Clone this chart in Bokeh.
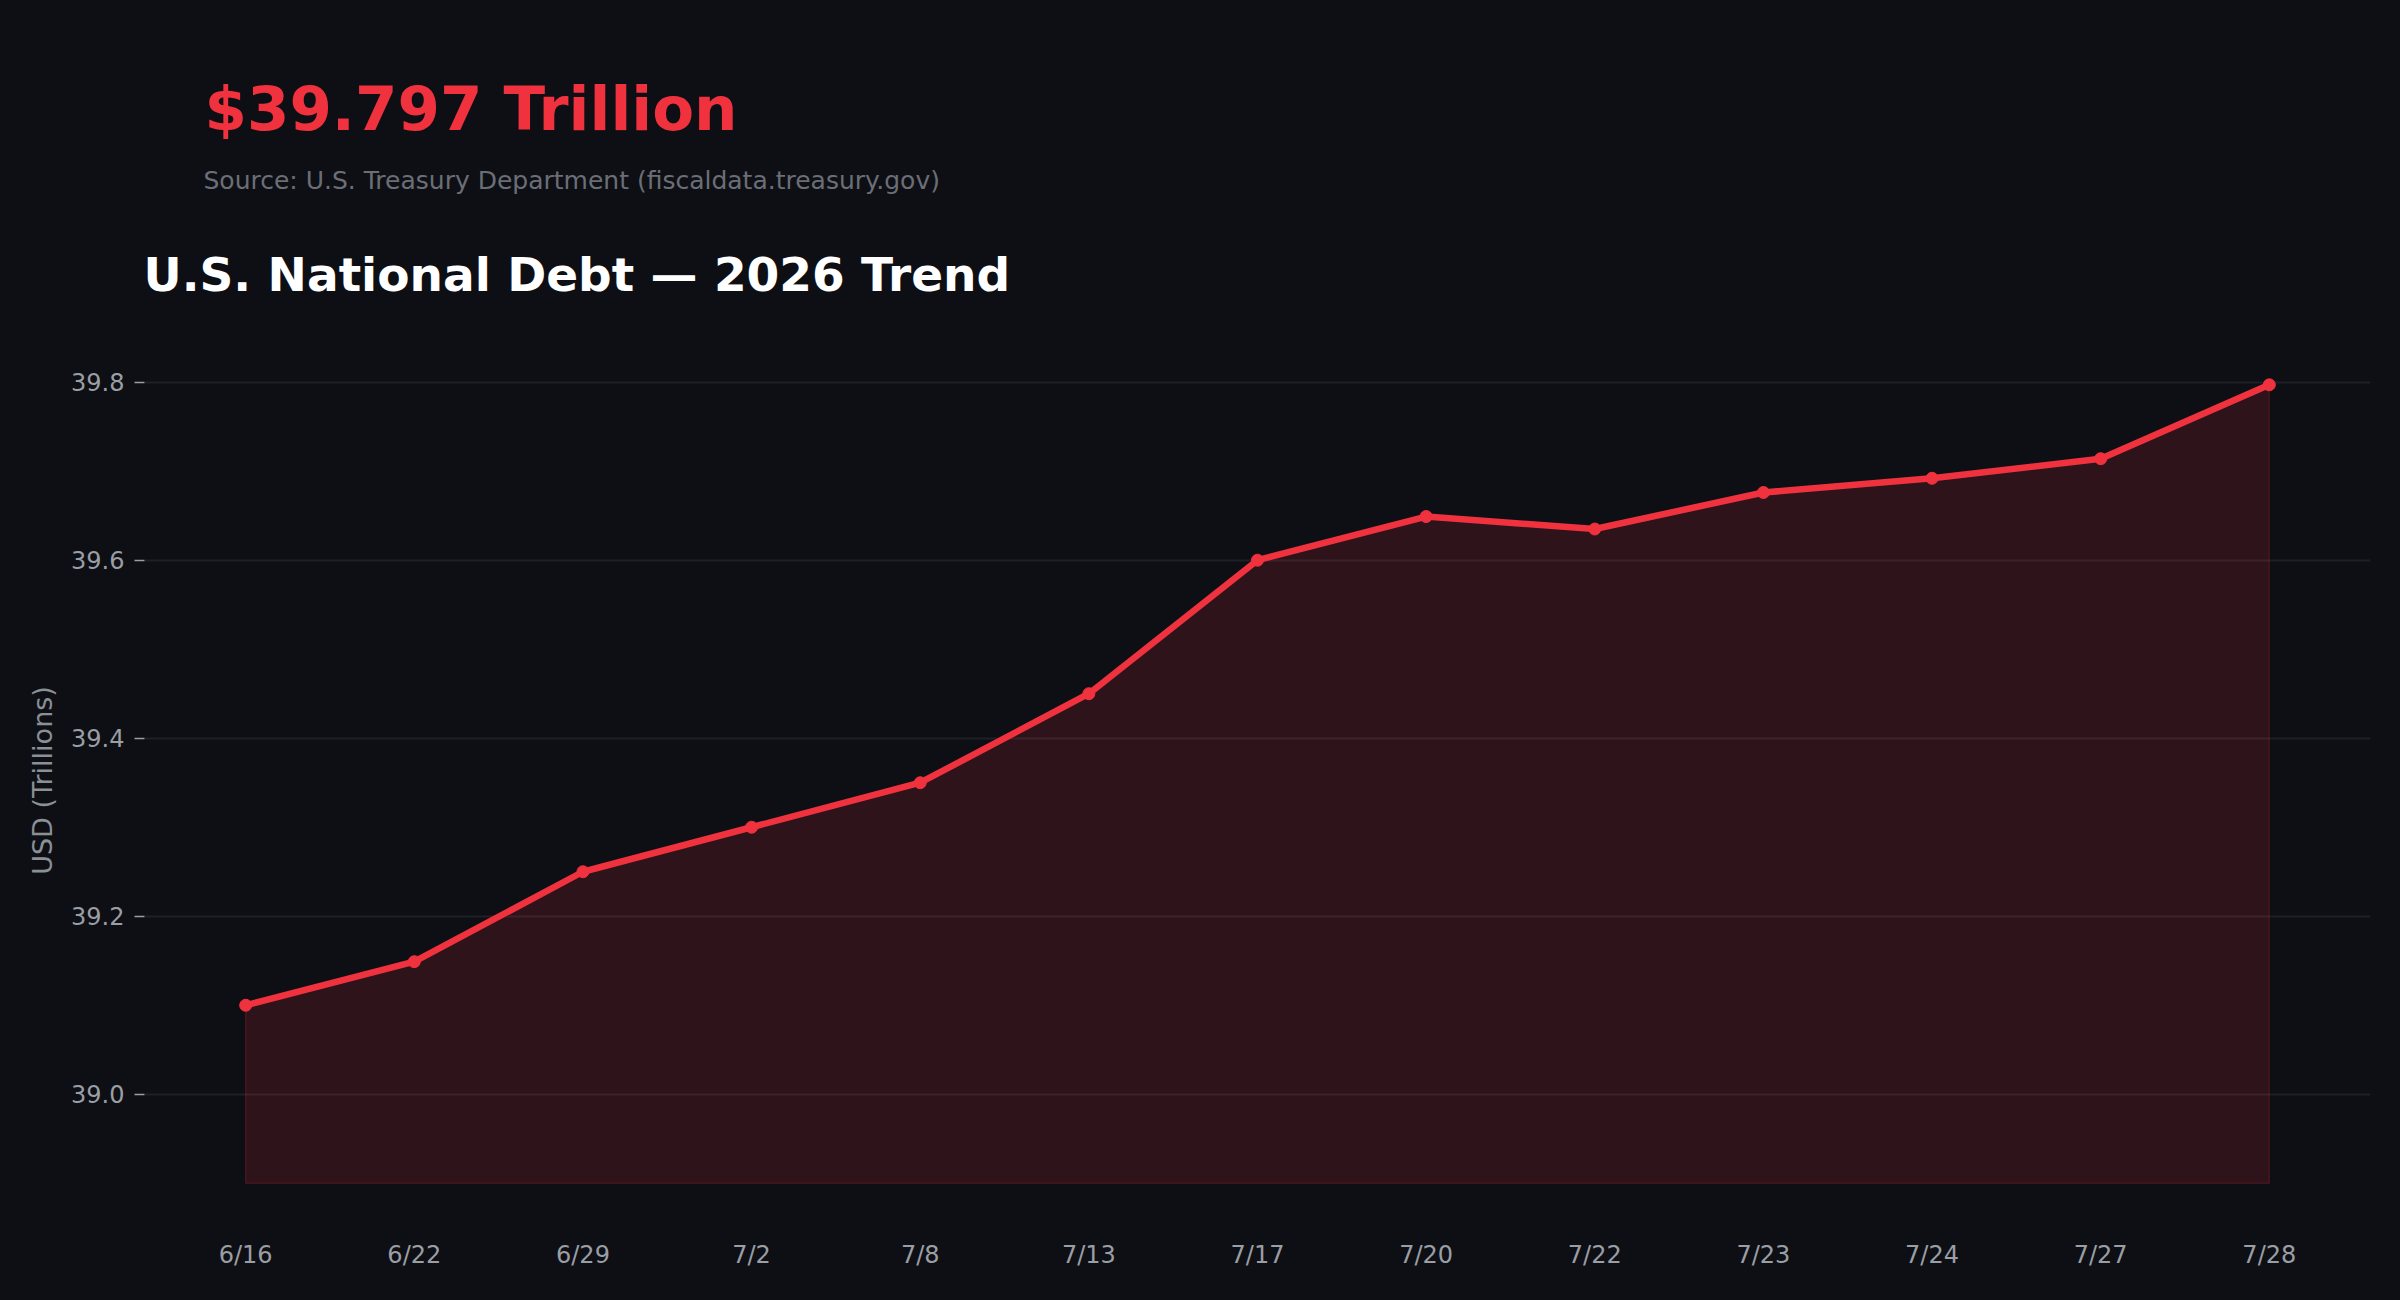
from bokeh.plotting import figure
from bokeh.models import Range1d, FixedTicker, ColumnDataSource, PrintfTickFormatter
from bokeh.layouts import column
from bokeh.core.properties import value
from bokeh.embed import file_html
from bokeh.resources import INLINE

# ---- data ----
dates = ["6/16", "6/22", "6/29", "7/2", "7/8", "7/13", "7/17",
         "7/20", "7/22", "7/23", "7/24", "7/27", "7/28"]
debt = [39.100, 39.149, 39.250, 39.300, 39.350, 39.450, 39.600,
        39.649, 39.635, 39.676, 39.692, 39.714, 39.797]
y_ticks = [39.0, 39.2, 39.4, 39.6, 39.8]
area_base = 38.9
headline = "$39.797 Trillion"
source_text = "Source: U.S. Treasury Department (fiscaldata.treasury.gov)"
title_text = "U.S. National Debt \u2014 2026 Trend"
y_label = "USD (Trillions)"

# ---- style ----
BG = "#0e0f14"
RED = "#f0323f"
FONT = "DejaVu Sans"
TICK_COLOR = "#9a9ea5"

W = 2384
HEAD_H = 330
MAIN_H = 1284 - HEAD_H
LEFT = 144
RIGHT = 14

# ---- header (text block); data units equal page pixels ----
head = figure(width=W, height=HEAD_H, output_backend="svg", toolbar_location=None,
              x_range=Range1d(LEFT, W - RIGHT), y_range=Range1d(HEAD_H, 0),
              x_axis_location=None, y_axis_location=None,
              min_border_left=LEFT, min_border_right=RIGHT,
              min_border_top=0, min_border_bottom=0,
              background_fill_color=BG, border_fill_color=BG,
              outline_line_color=None, title=None)
head.grid.visible = False


def txt(t, x, y, size, color, bold=False):
    head.text(x=[x], y=[y], text=[t], text_font=value(FONT),
              text_font_size=value(size), text_color=color,
              text_font_style="bold" if bold else "normal",
              text_align="left", text_baseline="alphabetic")


txt(headline, 204, 108, "61px", RED, bold=True)
txt(source_text, 203, 180, "25px", "#6b6e76")
txt(title_text, 143, 274, "47px", "#ffffff", bold=True)

# ---- main chart ----
idx = list(range(len(dates)))
p = figure(width=W, height=MAIN_H, output_backend="svg", toolbar_location=None,
           x_range=Range1d(-0.6, len(dates) - 1 + 0.6),
           y_range=Range1d(38.847, 39.858),
           min_border_left=LEFT, min_border_right=RIGHT,
           min_border_top=0, min_border_bottom=54,
           background_fill_color=BG, border_fill_color=BG,
           outline_line_color=None, title=None)

area_x = idx + idx[::-1]
area_y = debt + [area_base] * len(debt)
p.patch(area_x, area_y, fill_color=RED, fill_alpha=0.15,
        line_color=RED, line_alpha=0.18, line_width=1.5)

src = ColumnDataSource(dict(x=idx, y=debt))
p.line("x", "y", source=src, line_color=RED, line_width=6.5, line_join="round")
p.scatter("x", "y", source=src, size=12, fill_color=RED, line_color=RED)

xa = p.xaxis[0]
xa.ticker = FixedTicker(ticks=idx)
xa.major_label_overrides = {i: d for i, d in zip(idx, dates)}
xa.axis_line_color = None
xa.major_tick_line_color = None
xa.major_tick_out = 0
xa.major_tick_in = 0
xa.minor_tick_line_color = None
xa.major_label_standoff = 10
xa.major_label_text_font = FONT
xa.major_label_text_font_size = "24px"
xa.major_label_text_color = TICK_COLOR

ya = p.yaxis[0]
ya.ticker = FixedTicker(ticks=y_ticks)
ya.formatter = PrintfTickFormatter(format="%.1f")
ya.axis_line_color = None
ya.major_tick_line_color = TICK_COLOR
ya.major_tick_line_width = 1.5
ya.major_tick_out = 10
ya.major_tick_in = 0
ya.minor_tick_line_color = None
ya.major_label_standoff = 10
ya.major_label_text_font = FONT
ya.major_label_text_font_size = "24px"
ya.major_label_text_color = TICK_COLOR
ya.axis_label = y_label
ya.axis_label_text_font = FONT
ya.axis_label_text_font_size = "27px"
ya.axis_label_text_font_style = "normal"
ya.axis_label_text_color = "#8b8f96"
ya.axis_label_standoff = 10

p.xgrid.grid_line_color = None
p.ygrid.ticker = FixedTicker(ticks=y_ticks)
p.ygrid.grid_line_color = "#1e2026"
p.ygrid.grid_line_width = 2

layout = column(head, p, spacing=0)

html = file_html(layout, INLINE)
html = html.replace("<head>", "<head><style>html,body{background:%s;}</style>" % BG, 1)
open("out.html", "w").write(html)
